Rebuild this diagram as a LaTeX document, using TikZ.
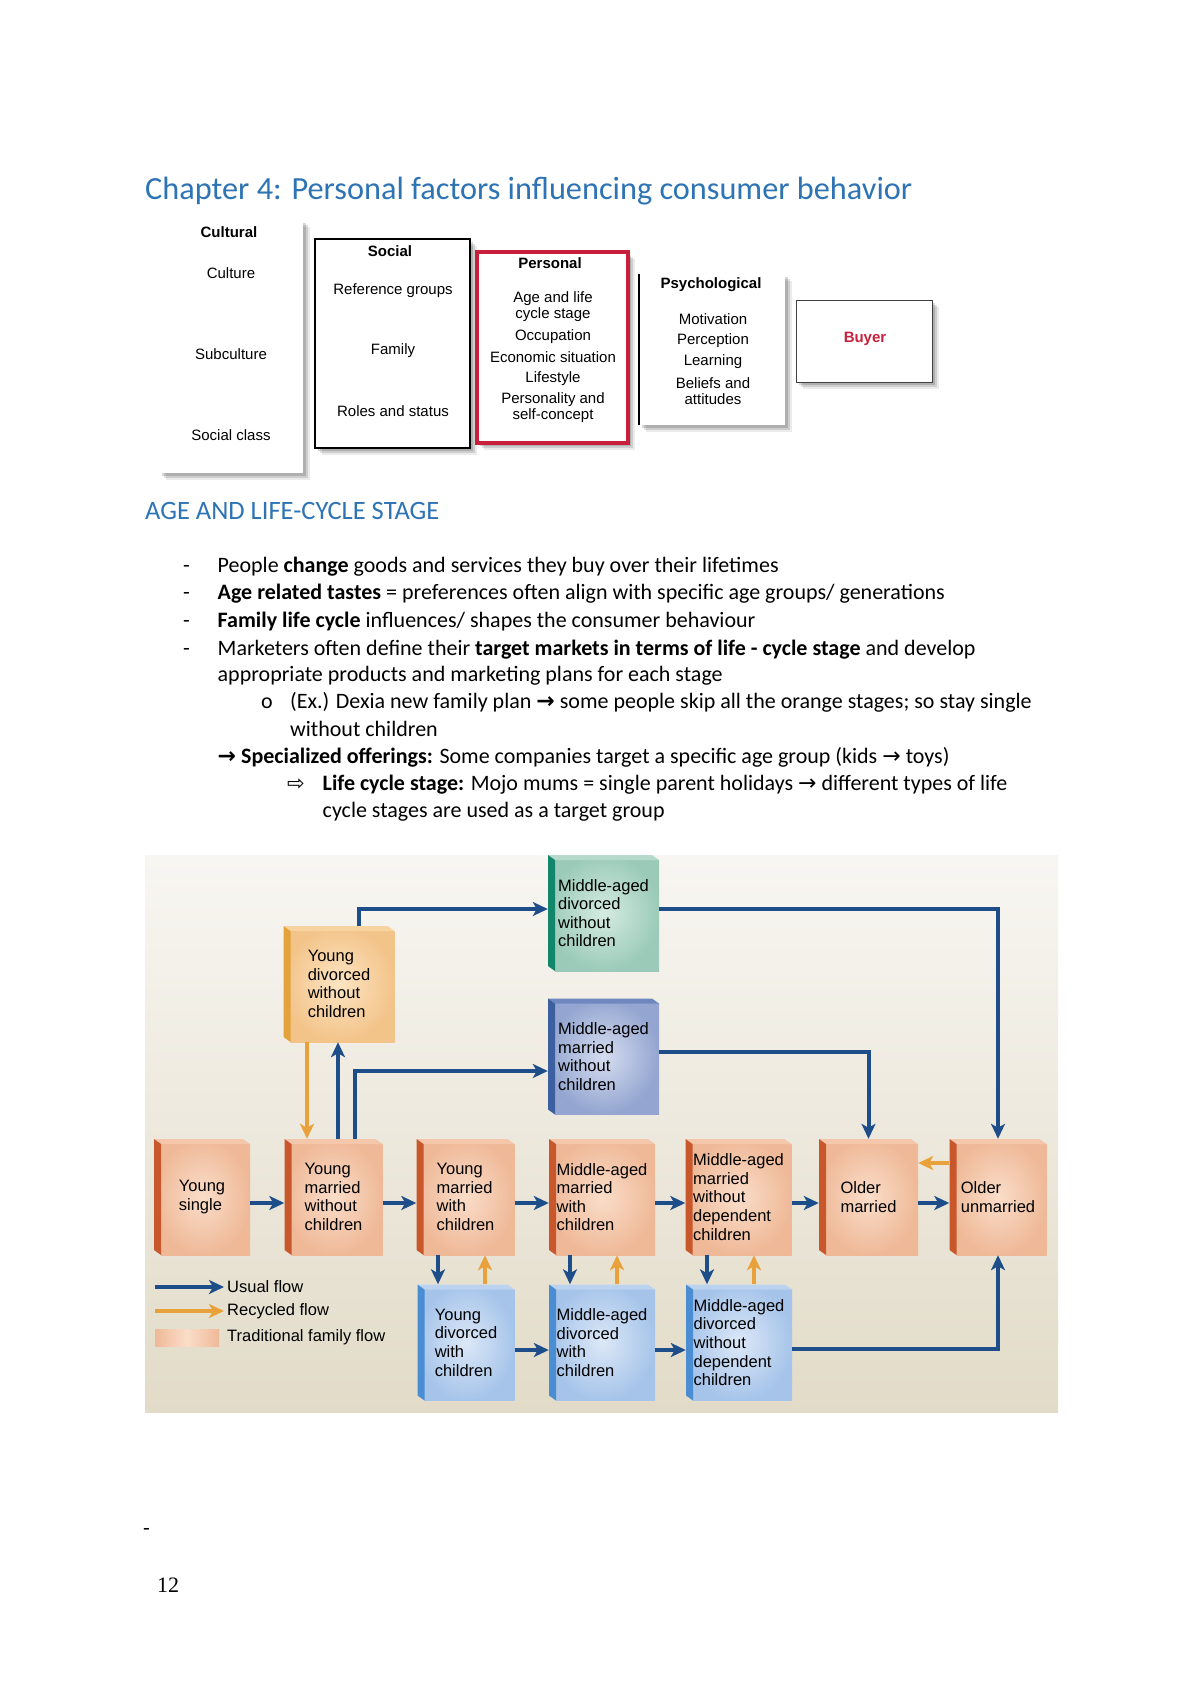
\documentclass[tikz,border=0pt]{standalone}
\usepackage{fontspec}
\setmainfont{Carlito}
\newfontfamily\helv{Liberation Sans}
\newfontfamily\symf{DejaVu Sans}
\newfontfamily\serf{Liberation Serif}
\usetikzlibrary{arrows.meta,positioning,calc,shadows}

\definecolor{headblue}{HTML}{2E74B5}
\definecolor{personalred}{HTML}{C8203C}
\definecolor{usualblue}{HTML}{1D4E89}
\definecolor{recycorange}{HTML}{E9A23B}
\definecolor{figtop}{HTML}{F8F6F2}
\definecolor{figbot}{HTML}{E2DBC8}
\definecolor{tradout}{HTML}{EFB998}
\definecolor{tradin}{HTML}{FADDC9}
\definecolor{tradside}{HTML}{C9572C}
\definecolor{tradtop}{HTML}{F4C7AA}
\definecolor{ydivout}{HTML}{F3C48A}
\definecolor{ydivin}{HTML}{FCE4C2}
\definecolor{ydivside}{HTML}{E4A23C}
\definecolor{ydivtop}{HTML}{F7D3A0}
\definecolor{mdivout}{HTML}{9BCBB8}
\definecolor{mdivin}{HTML}{D5EBE2}
\definecolor{mdivside}{HTML}{12866A}
\definecolor{mdivtop}{HTML}{B5DACB}
\definecolor{mmarout}{HTML}{93A5D0}
\definecolor{mmarin}{HTML}{D6DDF0}
\definecolor{mmarside}{HTML}{3C5FA0}
\definecolor{mmartop}{HTML}{6F88C0}
\definecolor{bdivout}{HTML}{A6C4EA}
\definecolor{bdivin}{HTML}{DCE8F7}
\definecolor{bdivside}{HTML}{4A8DD2}
\definecolor{bdivtop}{HTML}{BCD3F0}

\tikzset{
  factor/.style={fill=white, inner sep=0pt,
    drop shadow={shadow xshift=7pt, shadow yshift=-7pt, fill=black, opacity=0.08},
    drop shadow={shadow xshift=5pt, shadow yshift=-5pt, fill=black, opacity=0.12},
    drop shadow={shadow xshift=3pt, shadow yshift=-3pt, fill=black, opacity=0.15}},
  ftext/.style={inner sep=0pt, align=center, font=\helv\fontsize{15}{16}\selectfont},
  fhead/.style={ftext, font=\helv\bfseries\fontsize{15}{16}\selectfont},
  bodyline/.style={anchor=base west, inner sep=0pt, font=\fontsize{22}{27}\selectfont},
  stage/.style n args={4}{minimum height=116pt, inner sep=0pt, align=left,
    font=\helv\fontsize{16.5}{18.6}\selectfont,
    path picture={
      \shade[outer color=#1, inner color=#2]
        ([xshift=7pt,yshift=-5pt]path picture bounding box.north west)
        rectangle (path picture bounding box.south east);
      \fill[#4] (path picture bounding box.north west)
        -- ([xshift=-7pt]path picture bounding box.north east)
        -- ([yshift=-5pt]path picture bounding box.north east)
        -- ([xshift=7pt,yshift=-5pt]path picture bounding box.north west) -- cycle;
      \fill[#3] (path picture bounding box.north west)
        -- ([xshift=7pt,yshift=-5pt]path picture bounding box.north west)
        -- ([xshift=7pt]path picture bounding box.south west)
        -- ([yshift=5pt]path picture bounding box.south west) -- cycle;
    }},
  trad/.style={stage={tradout}{tradin}{tradside}{tradtop}},
  ydiv/.style={stage={ydivout}{ydivin}{ydivside}{ydivtop}},
  mdiv/.style={stage={mdivout}{mdivin}{mdivside}{mdivtop}},
  mmar/.style={stage={mmarout}{mmarin}{mmarside}{mmartop}},
  bdiv/.style={stage={bdivout}{bdivin}{bdivside}{bdivtop}},
  usual/.style={line width=4pt, draw=usualblue, -{Stealth[length=15pt,width=14pt,inset=4pt]}},
  recycled/.style={usual, draw=recycorange},
  legend/.style={anchor=west, inner sep=3pt, font=\helv\fontsize{16.5}{18.6}\selectfont}
}

\begin{document}
\begin{tikzpicture}[x=1pt, y=-1pt]
    \useasboundingbox (0,0) rectangle (1200,1696);
    \fill[white] (0,0) rectangle (1200,1696);

    % Title
    \node[bodyline, font=\fontsize{32.3}{38}\selectfont, text=headblue] (title) at (145,200)
        {Chapter 4: Personal factors influencing consumer behavior};

    % Factor boxes
    \node[factor, minimum width=144pt, minimum height=253pt] (cultural) at (231,346.5) {};
    \node[factor, draw=black, line width=1.2pt, minimum width=155pt, minimum height=209pt] (social) at (392.5,343.5) {};
    \node[factor, draw=personalred, line width=4pt, minimum width=151pt, minimum height=191pt] (personal) at (552.5,347.5) {};
    \node[factor, minimum width=146pt, minimum height=151pt] (psycho) at (712,349.5) {};
    \draw[line width=2.5pt] (psycho.north west) -- (psycho.south west);
    \node[factor, draw=black!75, line width=1pt, minimum width=136pt, minimum height=82pt] (buyer) at (864,341) {};

    % Factor texts
    \node[fhead] (culthead) at (229,232) {Cultural};
    \foreach \nm/\y/\txt in {cult1/273/Culture, cult2/354/Subculture, cult3/435/Social class}
        \node[ftext] (\nm) at (231,\y) {\txt};
    \node[fhead] (sochead) at (390,251) {Social};
    \foreach \nm/\y/\txt in {soc1/291/Reference groups, soc2/351/Family, soc3/411/Roles and status}
        \node[ftext] (\nm) at (393,\y) {\txt};
    \node[fhead] (perhead) at (550,263) {Personal};
    \foreach \nm/\y/\txt in {per1/307/{Age and life\\cycle stage}, per2/337/Occupation,
        per3/357/Economic situation, per4/379/Lifestyle, per5/408/{Personality and\\self-concept}}
        \node[ftext] (\nm) at (553,\y) {\txt};
    \node[fhead] (psyhead) at (711,285) {Psychological};
    \foreach \nm/\y/\txt in {psy1/319/Motivation, psy2/341/Perception, psy3/362/Learning,
        psy4/391/{Beliefs and\\attitudes}}
        \node[ftext] (\nm) at (713,\y) {\txt};
    \node[fhead, text=personalred] (buyertxt) at (865,339) {Buyer};

    % Section heading
    \node[bodyline, font=\fontsize{26.5}{32}\selectfont, text=headblue] (heading) at (145,519)
        {AGE AND LIFE-CYCLE STAGE};

    % Bullets
    \foreach \nm/\y in {d1/572, d2/599, d3/627, d4/655}
        \node[bodyline] (\nm) at (183,\y) {-};
    \node[bodyline] (l1) at (217.5,572) {People \textbf{change} goods and services they buy over their lifetimes};
    \node[bodyline] (l2) at (217.5,599) {\textbf{Age related tastes} = preferences often align with specific age groups/ generations};
    \node[bodyline] (l3) at (217.5,627) {\textbf{Family life cycle} influences/ shapes the consumer behaviour};
    \node[bodyline] (l4) at (217.5,655) {Marketers often define their \textbf{target markets in terms of life - cycle stage} and develop};
    \node[bodyline] (l5) at (217.5,681) {appropriate products and marketing plans for each stage};
    \node[bodyline] (o1) at (261,708) {o};
    \node[bodyline] (l6) at (290,708) {(Ex.) Dexia new family plan {\symf\bfseries →} some people skip all the orange stages; so stay single};
    \node[bodyline] (l7) at (290,736) {without children};
    \node[bodyline] (l8) at (217.5,763) {{\symf\bfseries →} \textbf{Specialized offerings:} Some companies target a specific age group (kids {\symf →} toys)};
    \node[bodyline] (o2) at (287,790.5) {{\symf\fontsize{21}{24}\selectfont ⇨}};
    \node[bodyline] (l9) at (322.5,790.5) {\textbf{Life cycle stage:} Mojo mums = single parent holidays {\symf →} different types of life};
    \node[bodyline] (l10) at (322.5,817.5) {cycle stages are used as a target group};

    % Life cycle background
    \shade[top color=figtop, bottom color=figbot] (145,855) rectangle (1058,1412);

    % Traditional family row
    \node[trad, minimum width=96pt] (ys) at (202,1197) {Young\\single};
    \node[trad, minimum width=98pt] (ymwoc) at (333.5,1197) {Young\\married\\without\\children};
    \node[trad, minimum width=98pt] (ymwc) at (465.5,1197) {Young\\married\\with\\children};
    \node[trad, minimum width=106pt] (mamwc) at (602,1197) {Middle-aged\\married\\with\\children};
    \node[trad, minimum width=106pt] (mamwodc) at (738.5,1197) {Middle-aged\\married\\without\\dependent\\children};
    \node[trad, minimum width=99pt] (om) at (868.5,1197) {Older\\married};
    \node[trad, minimum width=97pt] (ou) at (998,1197) {Older\\unmarried};

    % Other stages
    \node[ydiv, minimum width=111pt] (ydwoc) at (339,984) {Young\\divorced\\without\\children};
    \node[mdiv, minimum width=111pt] (madwoc) at (603.5,913) {Middle-aged\\divorced\\without\\children};
    \node[mmar, minimum width=111pt] (mamwoc) at (603.5,1056.5) {Middle-aged\\married\\without\\children};
    \node[bdiv, minimum width=97pt] (ydwc) at (466,1342.5) {Young\\divorced\\with\\children};
    \node[bdiv, minimum width=106pt] (madwc) at (602,1342.5) {Middle-aged\\divorced\\with\\children};
    \node[bdiv, minimum width=106pt] (madwodc) at (739,1342.5) {Middle-aged\\divorced\\without\\dependent\\children};

    % Usual flow along the main row
    \foreach \a/\b in {ys/ymwoc, ymwoc/ymwc, ymwc/mamwc, mamwc/mamwodc, mamwodc/om, om/ou}
        \draw[usual] ([yshift=-6pt]\a.east) -- ([yshift=-6pt]\b.west);
    \draw[recycled] ([yshift=34pt]ou.west) -- ([yshift=34pt]om.east);

    % Divorce branches
    \draw[recycled] ([xshift=-32pt]ydwoc.south) -- ([xshift=-32pt]ydwoc.south |- ymwoc.north);
    \draw[usual] ([xshift=4.5pt]ymwoc.north) -- ([xshift=4.5pt]ymwoc.north |- ydwoc.south);
    \draw[usual] ([xshift=21.5pt]ymwoc.north) |- ([yshift=-14.5pt]mamwoc.west);
    \draw[usual] ([xshift=20pt]ydwoc.north) |- ([yshift=4pt]madwoc.west);
    \draw[usual] ([yshift=4pt]madwoc.east) -| (ou.north);
    \draw[usual] ([yshift=4.5pt]mamwoc.east) -| (om.north);

    % Down to divorced with children and back
    \draw[usual] ([xshift=-27.5pt]ymwc.south) -- ([xshift=-27.5pt]ymwc.south |- ydwc.north);
    \draw[recycled] ([xshift=19.5pt]ymwc.south |- ydwc.north) -- ([xshift=19.5pt]ymwc.south);
    \draw[usual] ([xshift=-32pt]mamwc.south) -- ([xshift=-32pt]mamwc.south |- madwc.north);
    \draw[recycled] ([xshift=15pt]mamwc.south |- madwc.north) -- ([xshift=15pt]mamwc.south);
    \draw[usual] ([xshift=-31.5pt]mamwodc.south) -- ([xshift=-31.5pt]mamwodc.south |- madwodc.north);
    \draw[recycled] ([xshift=15.5pt]mamwodc.south |- madwodc.north) -- ([xshift=15.5pt]mamwodc.south);
    \draw[usual] ([yshift=-7.5pt]ydwc.east) -- ([yshift=-7.5pt]madwc.west);
    \draw[usual] ([yshift=-7.5pt]madwc.east) -- ([yshift=-7.5pt]madwodc.west);
    \draw[usual] ([yshift=-6pt]madwodc.east) -| (ou.south);

    % Legend
    \coordinate (usualtail) at (155,1287);
    \coordinate (recyctail) at (155,1311);
    \node[legend] (usuallbl) at (224,1287) {Usual flow};
    \node[legend] (recyclbl) at (224,1311) {Recycled flow};
    \node[legend] (tradlbl) at (224,1337.5) {Traditional family flow};
    \draw[usual] (usualtail) -- (usuallbl.west);
    \draw[recycled] (recyctail) -- (recyclbl.west);
    \shade[left color=tradout, right color=tradout, middle color=tradin] (155,1329) rectangle (219,1346);

    % Page foot
    \node[bodyline] (footdash) at (143,1535.5) {-};
    \node[bodyline, font=\serf\fontsize{22}{26}\selectfont] (pageno) at (157,1592) {12};
\end{tikzpicture}
\end{document}
